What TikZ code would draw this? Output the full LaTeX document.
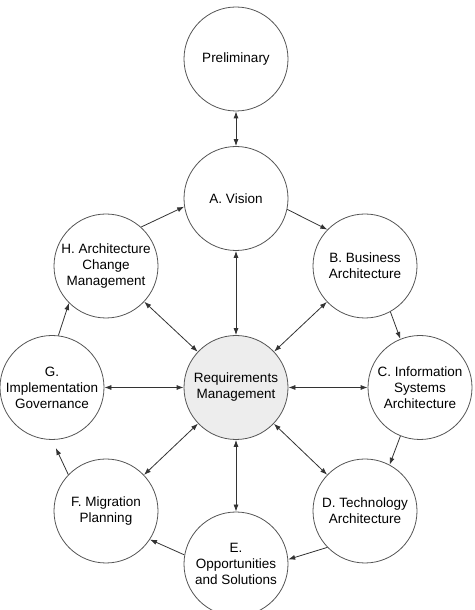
\documentclass[tikz,border=0pt]{standalone}
\usepackage{fontspec}
\setmainfont{Liberation Sans}
\usetikzlibrary{arrows.meta}
\definecolor{ringcol}{HTML}{555555}
\definecolor{linecol}{HTML}{333333}
\definecolor{reqfill}{HTML}{EDEDED}
\begin{document}
\begin{tikzpicture}[x=1pt,y=1pt,
  phase/.style={circle,draw=ringcol,line width=0.8pt,minimum size=104pt,inner sep=0pt,
    align=center,font=\fontsize{13.5}{16}\selectfont,text=black},
  req/.style={phase,fill=reqfill},
  conn/.style={draw=linecol,line width=0.8pt,-{Latex[length=7pt,width=5pt]}},
  bconn/.style={draw=linecol,line width=0.8pt,{Latex[length=7pt,width=5pt]}-{Latex[length=7pt,width=5pt]}}
]
\useasboundingbox (0,0) rectangle (474,610);
\node[phase] (P) at (236,551) {Preliminary};
\node[phase] (A) at (236,411.5) {A. Vision};
\node[phase] (B) at (365,344) {B. Business\\Architecture};
\node[phase] (C) at (420,222.5) {C. Information\\Systems\\Architecture};
\node[phase] (D) at (365,99) {D. Technology\\Architecture};
\node[phase] (E) at (236,46) {E.\\Opportunities\\and Solutions};
\node[phase] (F) at (106,99) {F. Migration\\Planning};
\node[phase] (G) at (52,222.5) {G.\\Implementation\\Governance};
\node[phase] (H) at (106,344) {H. Architecture\\Change\\Management};
\node[req] (R) at (236,222.5) {Requirements\\Management};
% cycle
\draw[bconn] (P) -- (A);
\draw[conn] (A.-12) -- (B.136.5);
\draw[conn] (B.-61.5) -- (C.112);
\draw[conn] (C.-112) -- (D.62.5);
\draw[conn] (D.-136.5) -- (E.5.5);
\draw[conn] (E.170) -- (F.-33);
\draw[conn,shorten >=9pt] (F.136.5) -- (G.-90);
\draw[conn] (G.83.5) -- (H.-135);
\draw[conn] (H.48.7) -- (A.189);
% spokes
\draw[bconn] (R) -- (A);
\draw[bconn] (R) -- (B);
\draw[bconn] (R) -- (C);
\draw[bconn] (R) -- (D);
\draw[bconn] (R) -- (E);
\draw[bconn] (R) -- (F);
\draw[bconn] (R) -- (G);
\draw[bconn] (R) -- (H);
\end{tikzpicture}
\end{document}
